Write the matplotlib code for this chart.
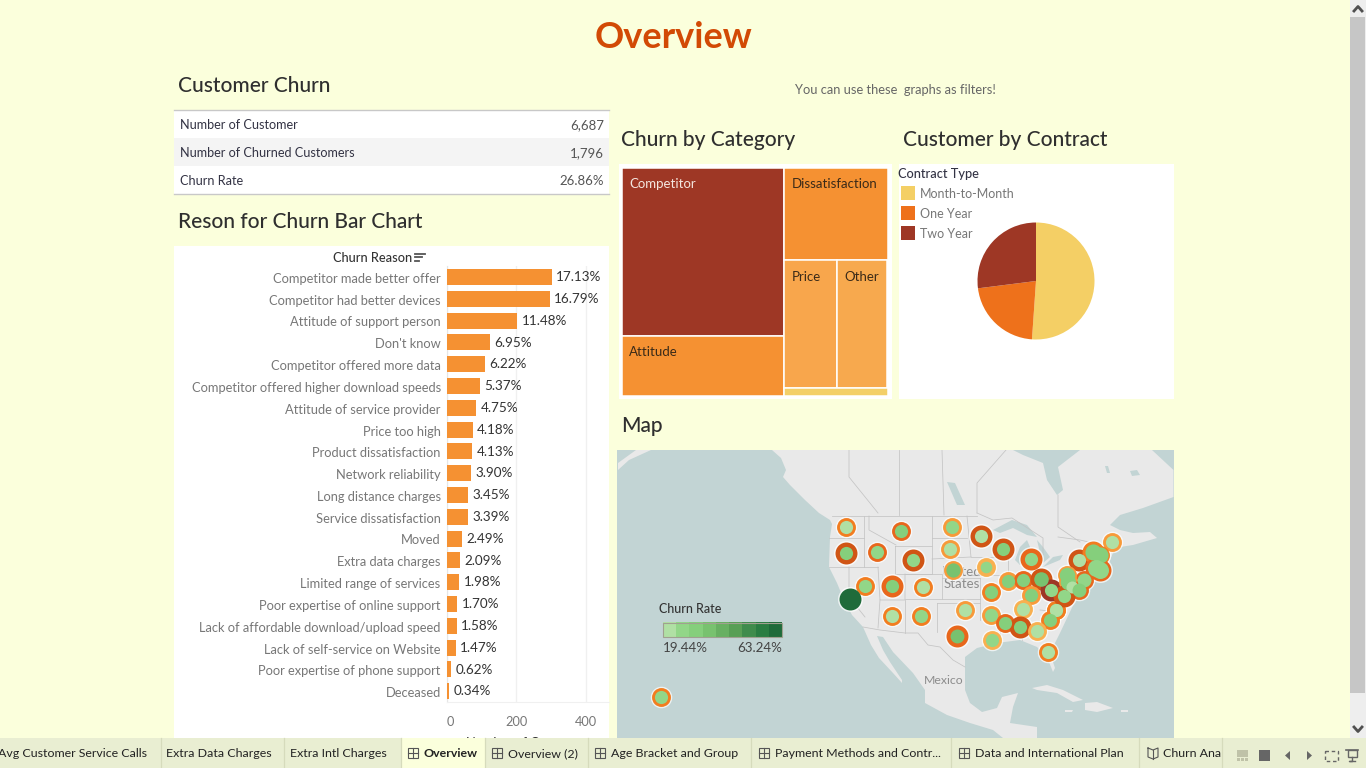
import matplotlib
matplotlib.use("Agg")
import matplotlib.pyplot as plt
from matplotlib.patches import Rectangle, Polygon
from matplotlib.colors import ListedColormap, Normalize
from matplotlib.text import Text
from matplotlib.transforms import Affine2D
import numpy as np

plt.rcParams['font.family'] = ['Lato', 'DejaVu Sans']

# ---------- data ----------
summary_labels = ["Number of Customer", "Number of Churned Customers", "Churn Rate"]
summary_values = ["6,687", "1,796", "26.86%"]

churned_total = 1765
reasons = ["Competitor made better offer", "Competitor had better devices", "Attitude of support person",
           "Don't know", "Competitor offered more data", "Competitor offered higher download speeds",
           "Attitude of service provider", "Price too high", "Product dissatisfaction", "Network reliability",
           "Long distance charges", "Service dissatisfaction", "Moved", "Extra data charges",
           "Limited range of services", "Poor expertise of online support",
           "Lack of affordable download/upload speed", "Lack of self-service on Website",
           "Poor expertise of phone support", "Deceased"]
reason_pct = [17.13, 16.79, 11.48, 6.95, 6.22, 5.37, 4.75, 4.18, 4.13, 3.90,
              3.45, 3.39, 2.49, 2.09, 1.98, 1.70, 1.58, 1.47, 0.62, 0.34]
bar_ticks = [0, 200, 400]

tree_labels = ["Competitor", "Attitude", "Dissatisfaction", "Price", "Other", ""]
tree_values = [45.0, 16.0, 15.9, 11.2, 10.7, 1.2]

contract_types = ["Month-to-Month", "One Year", "Two Year"]
contract_share = [51.1, 21.9, 27.0]

# city marks: picture position, churn rate (inner disc), ring level (outer ring)
map_x = [846, 901, 952, 981, 1003, 950, 846, 877, 913, 1031, 953, 986, 865, 892, 923, 1008, 1023, 1041,
         1051, 991, 1031, 1056, 965, 892, 921, 991, 1023, 1056, 1005, 1020, 1050, 1037, 957, 992, 1048,
         1112, 1079, 1093, 1100, 1096, 1100, 1084, 1067, 1068, 1072, 1079, 1064, 661, 850]
map_y = [527, 531, 527, 536, 549, 549, 553, 552, 560, 559, 570, 567, 586, 586, 587, 581, 580, 579,
         590, 592, 595, 610, 610, 616, 616, 615, 609, 610, 623, 627, 620, 631, 636, 640, 652,
         542, 560, 552, 555, 568, 570, 580, 575, 582, 587, 590, 596, 697, 599]
map_rate = [21, 31, 26, 21, 31, 21, 33, 26, 28, 26, 38, 26, 26, 33, 21, 31, 33, 38,
            26, 33, 33, 33, 21, 21, 26, 26, 21, 24, 33, 33, 31, 20, 36, 26, 21,
            21, 21, 31, 31, 26, 26, 26, 33, 33, 20, 31, 26, 26, 63]
map_ring = [2, 3, 1, 4, 4, 1, 4, 3, 4, 3, 1, 0, 2, 3, 2, 1, 3, 4,
            5, 2, 1, 1, 1, 2, 2, 1, 0, 2, 3, 4, 2, 0, 3, 0, 2,
            1, 4, 2, 2, 3, 3, 3, 1, 1, 1, 3, 4, 2, -1]
map_big = [0, 0, 0, 1, 1, 0, 1, 0, 1, 1, 0, 0, 0, 1, 0, 0, 0, 1,
           1, 0, 0, 0, 0, 0, 0, 0, 0, 0, 0, 1, 0, 0, 1, 0, 0,
           0, 1, 1, 0, 1, 1, 0, 0, 0, 0, 0, 1, 0, 1]
map_disc = [90, 90, 90, 90, 90, 90, 90, 90, 90, 90, 105, 70, 90, 90, 90, 90, 90, 110,
            90, 90, 90, 90, 90, 90, 90, 90, 90, 90, 90, 90, 90, 90, 100, 90, 90,
            90, 90, 135, 135, 150, 150, 100, 125, 125, 75, 100, 90, 90, 90]

tab_labels = ["Avg Customer Service Calls", "Extra Data Charges", "Extra Intl Charges", "Overview", "Overview (2)",
              "Age Bracket and Group", "Payment Methods and Contr...", "Data and International Plan", "Churn Ana"]

# ---------- colours ----------
BG = "#fbffdc"
TAB = "#e9eed2"
ORANGE = "#f59132"
DARK_RED = "#9e3725"
ring_palette = ["#f8b050", "#f79a3a", "#f27d20", "#e8671c", "#d05515", "#9e3725"]
green_steps = ["#b0e0a4", "#92d688", "#85cf7c", "#78c26f", "#68b062", "#589f55", "#3f8c4c", "#2a7d42", "#1f6b3a"]
tree_colors = [DARK_RED, ORANGE, ORANGE, "#f8a64c", "#f7a94e", "#f3cf68"]
pie_colors = ["#f4cf65", "#ee711b", DARK_RED]
GRY = "#777777"

W, H = 1366, 768
fig = plt.figure(figsize=(W / 100, H / 100), dpi=100, facecolor=BG)


def px_axes(x0, y0, x1, y1, z=1):
    return fig.add_axes([x0 / W, 1 - y1 / H, (x1 - x0) / W, (y1 - y0) / H], zorder=z)


# page layer in pixel coordinates
page = px_axes(0, 0, W, H, 0)
page.set_xlim(0, W)
page.set_ylim(H, 0)
page.axis("off")


def panel(x0, y0, x1, y1, c="white", z=1):
    page.add_patch(Rectangle((x0, y0), x1 - x0, y1 - y0, fc=c, ec="none", zorder=z))


page.text(674, 36.5, "Overview", ha="center", va="center", fontsize=26, fontweight="bold", color="#d24a05")
for x, y, s in [(178, 86, "Customer Churn"), (178, 222, "Reson for Churn Bar Chart"),
                (621, 139, "Churn by Category"), (903, 139, "Customer by Contract"), (621, 426, "Map")]:
    page.text(x, y - 0.5, s, ha="left", va="center", fontsize=15, color="#2f2f2f", fontweight="medium")
page.text(895.5, 88.5, "You can use these  graphs as filters!", ha="center", va="center", fontsize=9.3, color="#666666")

# summary table
panel(174, 110, 609, 194)
panel(174, 138, 609, 166, "#f4f4f4")
page.plot([174, 609], [110, 110], color="#c8c8c8", lw=1, zorder=3)
page.plot([174, 609], [194, 194], color="#c8c8c8", lw=1, zorder=3)
for i, (a, b) in enumerate(zip(summary_labels, summary_values)):
    yy = 124 + 28 * i
    page.text(180, yy, a, ha="left", va="center", fontsize=9.1, color="#333344", zorder=4)
    page.text(604, yy, b, ha="right", va="center", fontsize=9.5, color="#555555", zorder=4)

# bar chart
panel(174, 246, 609, 740)
page.text(372.5, 257, "Churn Reason", ha="center", va="center", fontsize=9.2, fontweight="medium", color="#333333", zorder=4)
for w, yy in [(10, 253.5), (7, 257), (4, 260.5)]:
    page.plot([415, 415 + w], [yy, yy], color="#555555", lw=1.3, zorder=4)
page.text(528, 742, "Number of Customers", ha="center", va="center", fontsize=9.2, fontweight="medium", color="#333333", zorder=4)

ax = px_axes(447, 266, 609, 702, 2)
counts = np.array(reason_pct) * churned_total / 100
ypos = np.arange(len(reasons))
ax.patch.set_alpha(0)
ax.barh(ypos, counts, height=16 / 21.8, color=ORANGE, zorder=3)
ax.set_xlim(0, 467)
ax.set_ylim(19.5, -0.5)
ax.set_yticks(ypos, reasons)
ax.set_xticks(bar_ticks)
ax.tick_params(axis="y", length=0, pad=4.5, labelsize=9.25, labelcolor=GRY)
ax.tick_params(axis="x", length=0, pad=9, labelsize=9.2, labelcolor=GRY)
ax.get_xticklabels()[0].set_ha("left")
ax.xaxis.grid(True, color="#f0f0f0", lw=1)
ax.set_axisbelow(True)
for s in ["top", "right"]:
    ax.spines[s].set_visible(False)
ax.spines["left"].set_color("#e6e6e6")
ax.spines["bottom"].set_color("#f0f0f0")
for y, c, p in zip(ypos, counts, reason_pct):
    ax.text(c + 12.5, y - 0.03, f"{p:.2f}%", ha="left", va="center", fontsize=9.7, color="#333333", zorder=4)

# treemap (slice-and-dice from the values)
panel(619, 164, 892, 399)
tr = px_axes(621.5, 167.5, 887.5, 395.5, 2)
tr.set_xlim(0, 1)
tr.set_ylim(1, 0)
tr.axis("off")
v = np.array(tree_values, float)
left_w = v[:2].sum() / v.sum()
comp_h = v[0] / v[:2].sum()
rest = v[2:].sum()
diss_h = v[2] / rest
mid_h = v[3:5].sum() / rest
price_w = v[3] / v[3:5].sum()
right_w = 1 - left_w
rects = [(0, 0, left_w, comp_h), (0, comp_h, left_w, 1 - comp_h),
         (left_w, 0, right_w, diss_h),
         (left_w, diss_h, right_w * price_w, mid_h),
         (left_w + right_w * price_w, diss_h, right_w * (1 - price_w), mid_h),
         (left_w, diss_h + mid_h, right_w, 1 - diss_h - mid_h)]
for (x, y, w, h), c, lab in zip(rects, tree_colors, tree_labels):
    tr.add_patch(Rectangle((x, y), w, h, fc=c, ec="white", lw=1.1))
    tr.text(x + 7.5 / 265, y + 15.5 / 227, lab, ha="left", va="center", fontsize=9.5,
            color="#f4e6df" if c == DARK_RED else "#3a2a18")

# pie
panel(899, 164, 1174, 399)
pi = px_axes(1036 - 60, 281 - 60, 1036 + 60, 281 + 60, 2)
pi.pie(contract_share, colors=pie_colors, startangle=90, counterclock=False, radius=58.5 / 60)
pi.set_xlim(-1, 1)
pi.set_ylim(-1, 1)
page.text(898, 173, "Contract Type", ha="left", va="center", fontsize=9.2, fontweight="medium", color="#333344", zorder=4)
for i, (lab, c) in enumerate(zip(contract_types, pie_colors)):
    page.add_patch(Rectangle((901, 186 + 20 * i), 14, 14, fc=c, ec="none", zorder=4))
    page.text(920, 193 + 20 * i, lab, ha="left", va="center", fontsize=9.0, color=GRY, zorder=4)

# map
mp = px_axes(617, 450, 1173.5, 738, 2)
mp.set_xticks([])
mp.set_yticks([])
for s in mp.spines.values():
    s.set_visible(False)
mp.set_facecolor("#c2d4d4")
LAND = "#e9e9e9"
WATER = "#c2d4d4"
BORDER = "#c4c4c4"
land_shapes = [
    [(772, 450), (781, 458), (786, 470), (783, 477), (790, 485), (805, 500), (819, 513), (830, 520), (832, 524),
     (830, 537), (829, 567), (837, 583), (844, 600), (852, 615), (863, 627), (871, 645), (879, 658), (893, 673),
     (902, 683), (902, 680), (890, 662), (883, 650), (877, 636), (883, 637), (893, 652), (913, 673), (925, 690),
     (925, 703), (947, 715), (970, 723), (993, 730), (1003, 738), (1037, 738), (1037, 727), (1010, 723),
     (1013, 707), (1018, 693), (1002, 697), (997, 708), (982, 712), (970, 703), (965, 690), (965, 657),
     (977, 648), (997, 643), (1020, 640), (1037, 647), (1047, 657), (1053, 672), (1055, 668), (1050, 653),
     (1060, 633), (1077, 597), (1084, 583), (1098, 577), (1109, 563), (1114, 550), (1120, 547), (1133, 545),
     (1157, 538), (1150, 532), (1133, 533), (1120, 530), (1110, 525), (1120, 515), (1143, 508), (1173.5, 497),
     (1173.5, 470), (1152, 450)],
    [(618, 470), (629, 460), (651, 450), (636, 450), (618, 463)],
    [(1032, 688), (1047, 685), (1063, 690), (1083, 700), (1073, 702), (1057, 693), (1037, 690)],
    [(1085, 703), (1097, 702), (1113, 708), (1097, 712), (1085, 710)],
    [(1065, 710), (1073, 710), (1072, 712), (1065, 712)],
    [(1121, 710), (1128, 710), (1128, 711.5), (1121, 711.5)],
]
water_shapes = [
    [(1013, 450), (1023, 455), (1043, 463), (1047, 480), (1057, 495), (1063, 490), (1058, 467), (1080, 450)],
    [(993, 530), (1012, 520), (1027, 525), (1037, 537), (1027, 535), (1013, 528), (1000, 533)],
    [(1015, 560), (1020, 547), (1027, 540), (1030, 547), (1025, 560), (1020, 565)],
    [(1037, 540), (1043, 547), (1050, 557), (1043, 563), (1040, 553)],
    [(1043, 567), (1060, 560), (1063, 555), (1053, 557)],
    [(947, 482), (955, 483), (965, 505), (957, 505)],
    [(1105, 466), (1108, 466), (1110, 473), (1107, 473)],
    [(1130, 471), (1137, 470), (1140, 475), (1132, 476)],
]
for poly in land_shapes:
    mp.add_patch(Polygon(poly, closed=True, fc=LAND, ec="none", zorder=1))
for poly in water_shapes:
    mp.add_patch(Polygon(poly, closed=True, fc=WATER, ec="none", zorder=1.5))
borders = [
    [(832, 516), (977, 516)], [(977, 513), (993, 520), (1012, 518), (1043, 538), (1043, 555)],
    [(1058, 537), (1080, 540), (1093, 543)], [(899, 450), (899, 515)], [(942, 450), (944, 515)],
    [(1006, 450), (977, 483), (977, 513)], [(1058, 495), (1058, 527), (1080, 542)],
    [(849, 450), (849, 477), (878, 513)],
    [(863, 627), (880, 630), (905, 633), (918, 633), (928, 645), (940, 647), (953, 660), (965, 667)],
    [(829, 538), (864, 538)], [(829, 567), (878, 567)], [(849, 567), (849, 597), (865, 617)],
    [(864, 516), (864, 567)], [(869, 516), (869, 530), (896, 545)],
    [(895, 546), (932, 546), (932, 574), (895, 574), (895, 546)],
    [(932, 516), (932, 546)], [(932, 538), (967, 538)], [(967, 516), (971, 557)], [(932, 559), (971, 557)],
    [(878, 567), (880, 600), (905, 600), (905, 574)], [(880, 600), (878, 628)], [(905, 600), (905, 633)],
    [(905, 574), (942, 574), (942, 599), (905, 599)], [(942, 578), (980, 578)], [(942, 599), (980, 599)],
    [(937, 603), (980, 603), (980, 620)], [(937, 603), (937, 632)], [(971, 557), (1008, 557)],
    [(972, 575), (1005, 575)], [(980, 578), (980, 603)], [(1008, 557), (1008, 585)],
    [(1000, 620), (1000, 640)], [(1022, 595), (1022, 640)], [(1040, 610), (1060, 612)],
]
for line in borders:
    bx, by = zip(*line)
    mp.plot(bx, by, color=BORDER, lw=0.55, zorder=2)
for x, y, s, fs in [(962, 570.5, "United", 9.5), (962, 583, "States", 9.5), (943.5, 680, "Mexico", 8.8)]:
    mp.text(x, y, s, ha="center", va="center", fontsize=fs, color="#8c8c8c", zorder=2.5)

green_cmap = ListedColormap(green_steps)
rate_norm = Normalize(19.44, 63.24)
# all rings sit below all discs, as in a dual-axis map
for i, (x, y, r, ring, big, disc) in enumerate(zip(map_x, map_y, map_rate, map_ring, map_big, map_disc)):
    outer = 250 if big else 185
    mp.scatter([x], [y], s=outer * 1.3, color="white", alpha=0.7, lw=0, zorder=3 + i * 0.001)
    if ring >= 0:
        mp.scatter([x], [y], s=outer, color=ring_palette[ring], lw=0, zorder=3.5 + i * 0.001)
        mp.scatter([x], [y], s=disc, color=green_cmap(rate_norm(r)), lw=0, zorder=4 + i * 0.001)
    else:
        mp.scatter([x], [y], s=outer, color=green_cmap(rate_norm(r)), lw=0, zorder=4 + i * 0.001)

mp.text(659, 608, "Churn Rate", ha="left", va="center", fontsize=9.0, color="#333333", fontweight="medium", zorder=6)
mp.imshow(np.arange(9).reshape(1, 9), cmap=green_cmap, extent=(663, 781.7, 637.3, 622.7), aspect="auto", zorder=6,
          interpolation="nearest")
mp.add_patch(Rectangle((663, 622.7), 118.7, 14.6, fc="none", ec="#a0a090", lw=0.8, zorder=7))
mp.text(663, 647, "19.44%", ha="left", va="center", fontsize=9.6, color="#444444", zorder=6)
mp.text(781.7, 647, "63.24%", ha="right", va="center", fontsize=9.6, color="#444444", zorder=6)
mp.set_xlim(617, 1173.5)
mp.set_ylim(738, 450)

# scrollbar
scr = px_axes(0, 0, W, H, 5)
scr.set_xlim(0, W)
scr.set_ylim(H, 0)
scr.axis("off")
scr.patch.set_alpha(0)
scr.add_patch(Rectangle((1350, 0), 16, 738, fc="#eeeeee", ec="none"))
scr.add_patch(Rectangle((1350, 17), 15, 676, fc="#c6c6c6", ec="none"))
scr.plot([1354, 1358, 1362], [11, 6.5, 11], color="#505050", lw=2)
scr.plot([1354, 1358, 1362], [727, 731.5, 727], color="#505050", lw=2)

# tab bar
scr.add_patch(Rectangle((0, 738), W, 30, fc=TAB, ec="none"))
scr.add_patch(Rectangle((401, 738), 83.5, 30, fc=BG, ec="none"))
for x in [161, 284, 400.5, 484.5, 588, 751, 951, 1138.5, 1221.5]:
    scr.plot([x, x], [738, 768], color="#d6dbbc", lw=0.9)
tab_x = [147, 166, 290, 424, 508, 611, 775, 975, 1163]
for i, (lab, x) in enumerate(zip(tab_labels, tab_x)):
    ha = "right" if i == 0 else "left"
    t = scr.text(x, 752.5, lab, ha=ha, va="center", fontsize=8.95, color="#222222",
                 fontweight="bold" if lab == "Overview" else "normal")
    t.set_clip_path(Rectangle((0, 738), 1221, 30, transform=scr.transData))
for x in [408, 492, 595, 759, 959]:
    scr.add_patch(Rectangle((x, 748), 10, 10, fc="none", ec="#555555", lw=0.8))
    scr.plot([x + 5, x + 5], [748, 758], color="#555555", lw=0.8)
    scr.plot([x, x + 10], [753, 753], color="#555555", lw=0.8)
scr.plot([1148, 1153, 1158, 1158, 1153, 1148, 1148], [748, 750, 748, 757, 759, 757, 748], color="#555555", lw=0.8)
scr.plot([1153, 1153], [750, 759], color="#555555", lw=0.8)

# view controls
scr.add_patch(Rectangle((1237, 750), 11, 7, fc="#bfc2a8", ec="none"))
for x in [1237, 1241, 1245]:
    scr.add_patch(Rectangle((x, 758), 3, 3, fc="#bfc2a8", ec="none"))
scr.add_patch(Rectangle((1259, 750), 11, 11, fc="#666666", ec="none"))
scr.add_patch(Polygon([(1290, 751), (1285, 755.5), (1290, 760)], fc="#666666", ec="none"))
scr.add_patch(Polygon([(1307, 751), (1312, 755.5), (1307, 760)], fc="#666666", ec="none"))
scr.add_patch(Rectangle((1324.5, 750.5), 13, 10, fc="none", ec="#666666", lw=1, ls=(0, (2.5, 2))))
scr.plot([1346, 1358], [750, 750], color="#666666", lw=1.2)
scr.add_patch(Rectangle((1347.5, 750), 9, 7, fc="none", ec="#666666", lw=1))
scr.plot([1352, 1352, 1349, 1355], [757, 761, 761, 761], color="#666666", lw=1)

# every label sits one pixel lower in the reference
shift = Affine2D().translate(0, -1)
fig.canvas.draw()
for a in fig.axes:
    for t in a.findobj(Text):
        t.set_transform(t.get_transform() + shift)

fig.savefig("out.png", dpi=100, facecolor=BG)
